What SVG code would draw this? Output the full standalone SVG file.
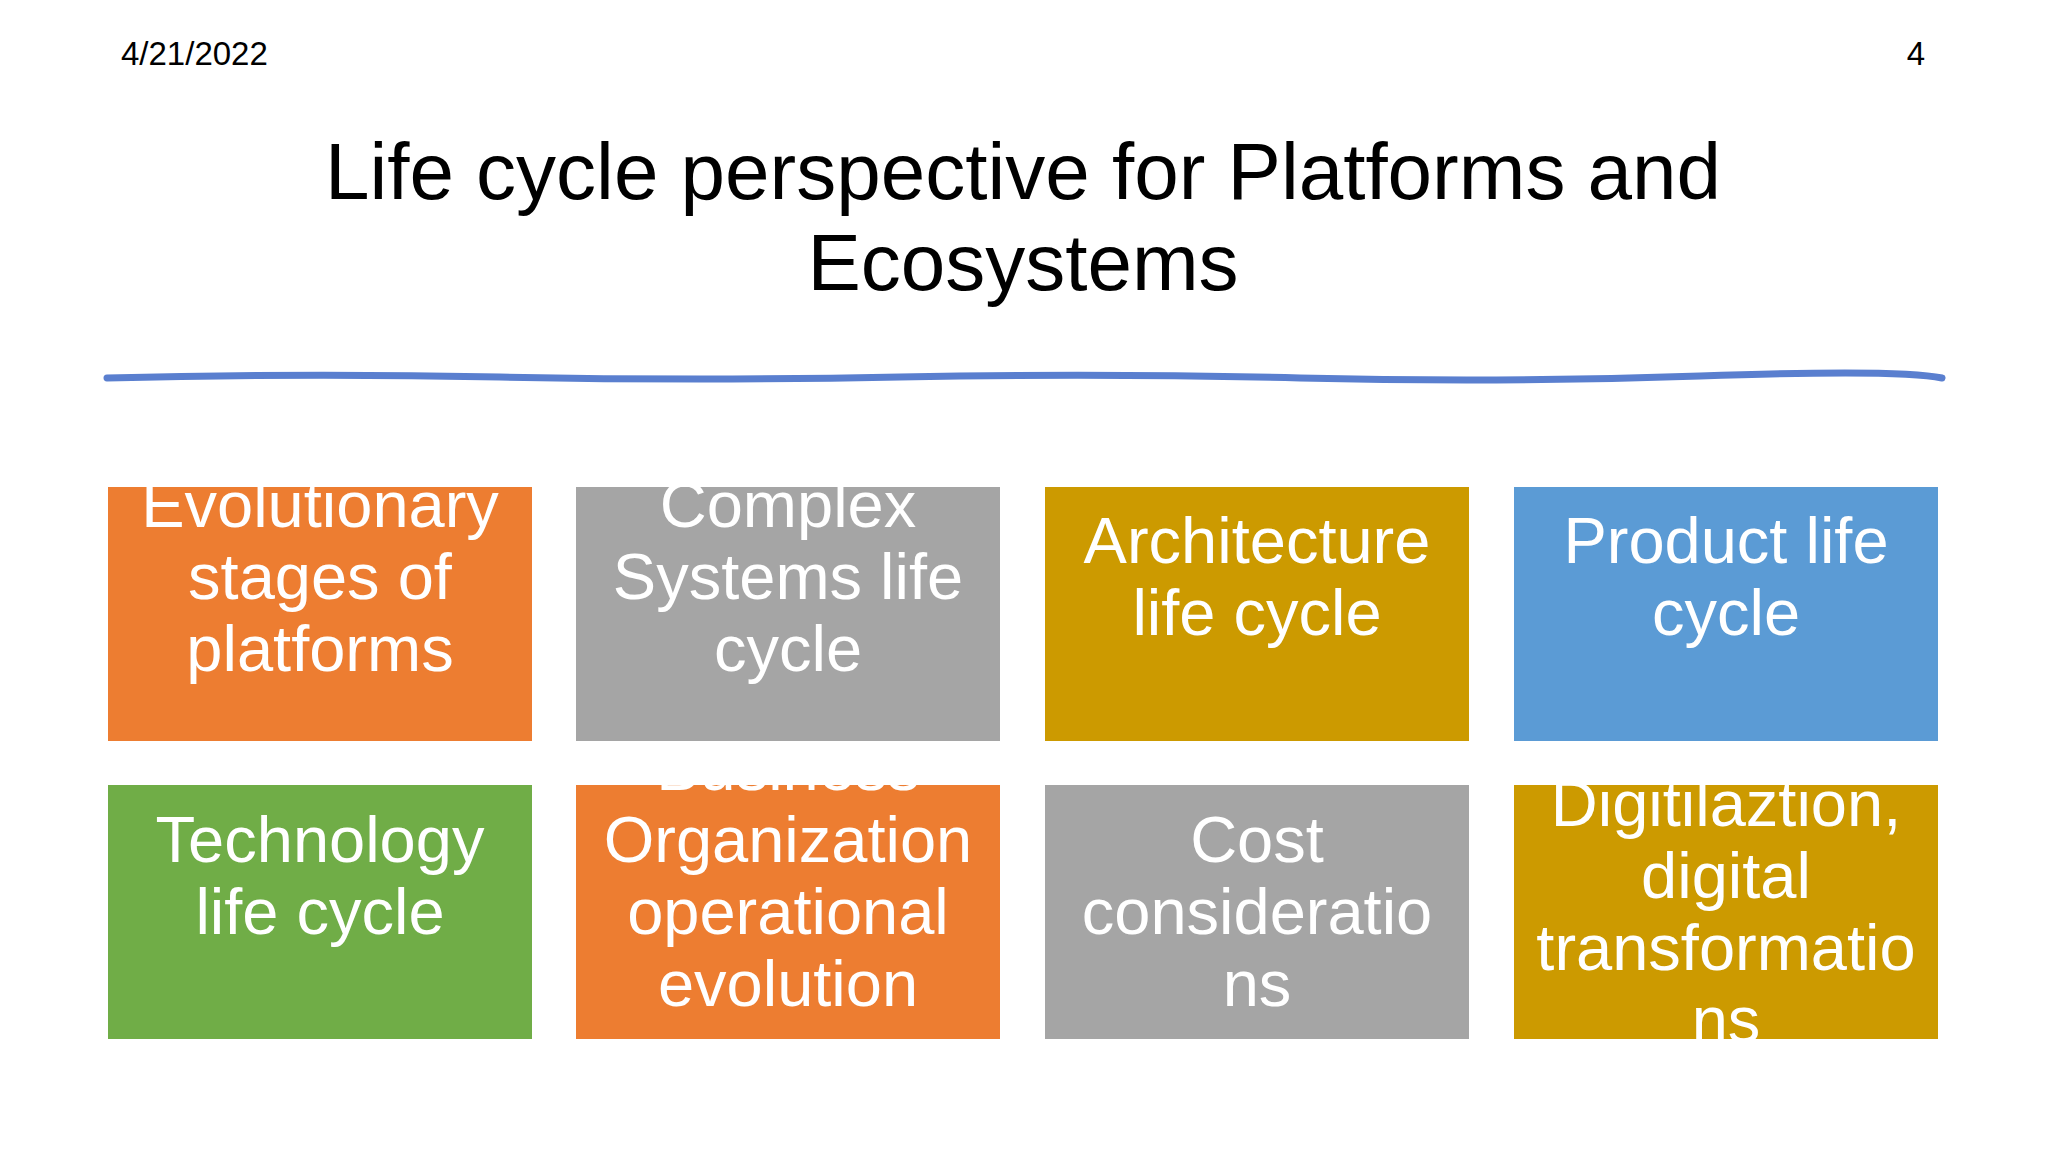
<svg xmlns="http://www.w3.org/2000/svg" width="2048" height="1152" viewBox="0 0 2048 1152">
<style>
text{font-family:"Liberation Sans",Arial,sans-serif}
.b text{fill:#fff;font-size:65px;text-anchor:middle}
.o{fill:#ED7D31}.g{fill:#A5A5A5}.y{fill:#CC9A00}.u{fill:#5B9BD5}.n{fill:#70AD47}
</style>
<defs>
<clipPath id="c1"><rect x="108" y="487" width="424" height="254"/></clipPath>
<clipPath id="c2"><rect x="576" y="487" width="424" height="254"/></clipPath>
<clipPath id="c3"><rect x="1045" y="487" width="424" height="254"/></clipPath>
<clipPath id="c4"><rect x="1514" y="487" width="424" height="254"/></clipPath>
<clipPath id="c5"><rect x="108" y="785" width="424" height="254"/></clipPath>
<clipPath id="c6"><rect x="576" y="785" width="424" height="254"/></clipPath>
<clipPath id="c7"><rect x="1045" y="785" width="424" height="254"/></clipPath>
<clipPath id="c8"><rect x="1514" y="785" width="424" height="254"/></clipPath>
</defs>
<rect width="2048" height="1152" fill="#fff"/>
<text x="121" y="65" font-size="33">4/21/2022</text>
<text x="1925" y="65" font-size="33" text-anchor="end">4</text>
<text x="1023" y="199" font-size="80" text-anchor="middle">Life cycle perspective for Platforms and</text>
<text x="1023" y="290" font-size="80" text-anchor="middle">Ecosystems</text>
<path d="M107 378 Q300 373 500 377 T900 377 T1300 378 T1700 376 T1942 378" fill="none" stroke="#5A7FCF" stroke-width="7" stroke-linecap="round"/>
<g id="n1" class="b" clip-path="url(#c1)"><rect class="o" x="108" y="487" width="424" height="254"/><text x="320" y="527">Evolutionary</text><text x="320" y="599">stages of</text><text x="320" y="671">platforms</text></g>
<g id="n2" class="b" clip-path="url(#c2)"><rect class="g" x="576" y="487" width="424" height="254"/><text x="788" y="527">Complex</text><text x="788" y="599">Systems life</text><text x="788" y="671">cycle</text></g>
<g id="n3" class="b" clip-path="url(#c3)"><rect class="y" x="1045" y="487" width="424" height="254"/><text x="1257" y="563">Architecture</text><text x="1257" y="635">life cycle</text></g>
<g id="n4" class="b" clip-path="url(#c4)"><rect class="u" x="1514" y="487" width="424" height="254"/><text x="1726" y="563">Product life</text><text x="1726" y="635">cycle</text></g>
<g id="n5" class="b" clip-path="url(#c5)"><rect class="n" x="108" y="785" width="424" height="254"/><text x="320" y="862">Technology</text><text x="320" y="934">life cycle</text></g>
<g id="n6" class="b" clip-path="url(#c6)"><rect class="o" x="576" y="785" width="424" height="254"/><text x="788" y="790">Business</text><text x="788" y="862">Organization</text><text x="788" y="934">operational</text><text x="788" y="1006">evolution</text></g>
<g id="n7" class="b" clip-path="url(#c7)"><rect class="g" x="1045" y="785" width="424" height="254"/><text x="1257" y="862">Cost</text><text x="1257" y="934">consideratio</text><text x="1257" y="1006">ns</text></g>
<g id="n8" class="b" clip-path="url(#c8)"><rect class="y" x="1514" y="785" width="424" height="254"/><text x="1726" y="826">Digitilaztion,</text><text x="1726" y="898">digital</text><text x="1726" y="970">transformatio</text><text x="1726" y="1042">ns</text></g>
<g id="connectors"/>
</svg>
